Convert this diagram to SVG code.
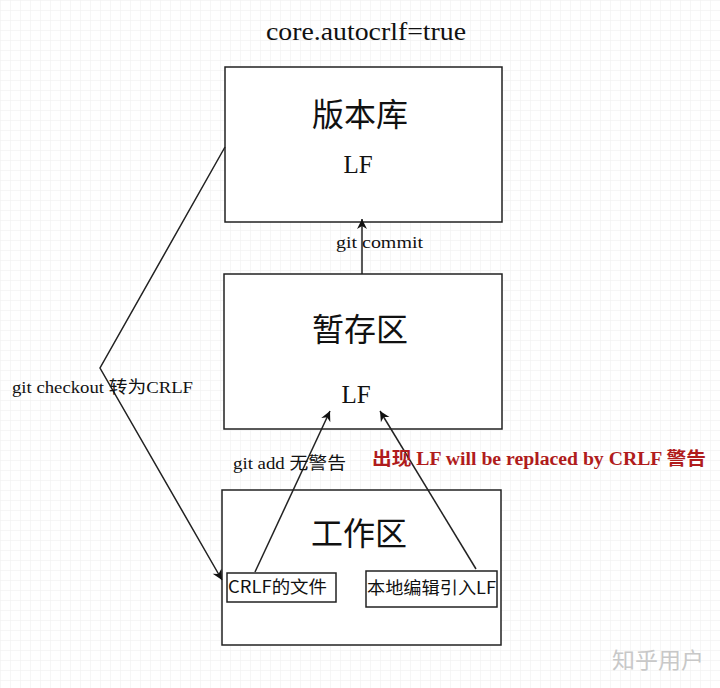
<svg xmlns="http://www.w3.org/2000/svg" width="720" height="688" viewBox="0 0 720 688">
<defs>
<pattern id="g" width="10" height="10" patternUnits="userSpaceOnUse"><path d="M10 0H0V10" fill="none" stroke="#eeeeee" stroke-width="1"/></pattern>
<marker id="a" viewBox="0 0 12 12" refX="11" refY="6" markerWidth="12" markerHeight="12" markerUnits="userSpaceOnUse" orient="auto"><path d="M1 1L11 6L1 11L4 6Z" fill="#111"/></marker>
</defs>
<style>
.b{fill:#fff;stroke:#222;stroke-width:1.5}
.t{font-family:"Liberation Serif","Noto Sans CJK SC",serif;fill:#111}
.c{font-family:"Noto Sans CJK SC",sans-serif;fill:#111}
.e{fill:none;stroke:#222;stroke-width:1.5}
</style>
<rect width="720" height="688" fill="#fff"/>
<rect width="720" height="688" fill="url(#g)"/>
<text class="t" x="266" y="40" font-size="25" textLength="200" lengthAdjust="spacingAndGlyphs">core.autocrlf=true</text>
<g id="repo"><rect class="b" x="225" y="67" width="277" height="155"/>
<text class="c" x="360" y="126" font-size="32" text-anchor="middle">版本库</text>
<text class="t" x="358" y="173" font-size="25" text-anchor="middle">LF</text></g>
<g id="stage"><rect class="b" x="224" y="274" width="278" height="155"/>
<text class="c" x="360" y="341" font-size="32" text-anchor="middle">暂存区</text>
<text class="t" x="356" y="403" font-size="25" text-anchor="middle">LF</text></g>
<g id="work"><rect class="b" x="222" y="490" width="279" height="155"/>
<text class="c" x="359" y="545" font-size="32" text-anchor="middle">工作区</text></g>
<g id="crlf"><rect class="b" x="227" y="573" width="109" height="29"/>
<text class="c" x="228" y="593" font-size="17" textLength="99" lengthAdjust="spacingAndGlyphs">CRLF的文件</text></g>
<g id="local"><rect class="b" x="366" y="571" width="131" height="36"/>
<text class="c" x="367" y="594" font-size="17" textLength="129" lengthAdjust="spacingAndGlyphs">本地编辑引入LF</text></g>
<g id="connectors">
<path class="e" d="M225 147L100 368L222 580" marker-end="url(#a)"/>
<path class="e" d="M362 274V219" marker-end="url(#a)"/>
<path class="e" d="M255 572L330 411" marker-end="url(#a)"/>
<path class="e" d="M476 569L380 411" marker-end="url(#a)"/>
<text class="t" x="336" y="248" font-size="17" textLength="87" lengthAdjust="spacingAndGlyphs">git commit</text>
<text class="t" x="12" y="393" font-size="17" textLength="181" lengthAdjust="spacingAndGlyphs">git checkout 转为CRLF</text>
<text class="t" x="233" y="469" font-size="17" textLength="113" lengthAdjust="spacingAndGlyphs">git add 无警告</text>
<text class="t" x="372" y="465" font-size="18" font-weight="bold" style="fill:#b01c1c" textLength="334" lengthAdjust="spacingAndGlyphs">出现 LF will be replaced by CRLF 警告</text>
</g>
<text class="c" x="612" y="668" font-size="22" style="fill:#c8c8c8" textLength="92" lengthAdjust="spacingAndGlyphs">知乎用户</text>
</svg>
